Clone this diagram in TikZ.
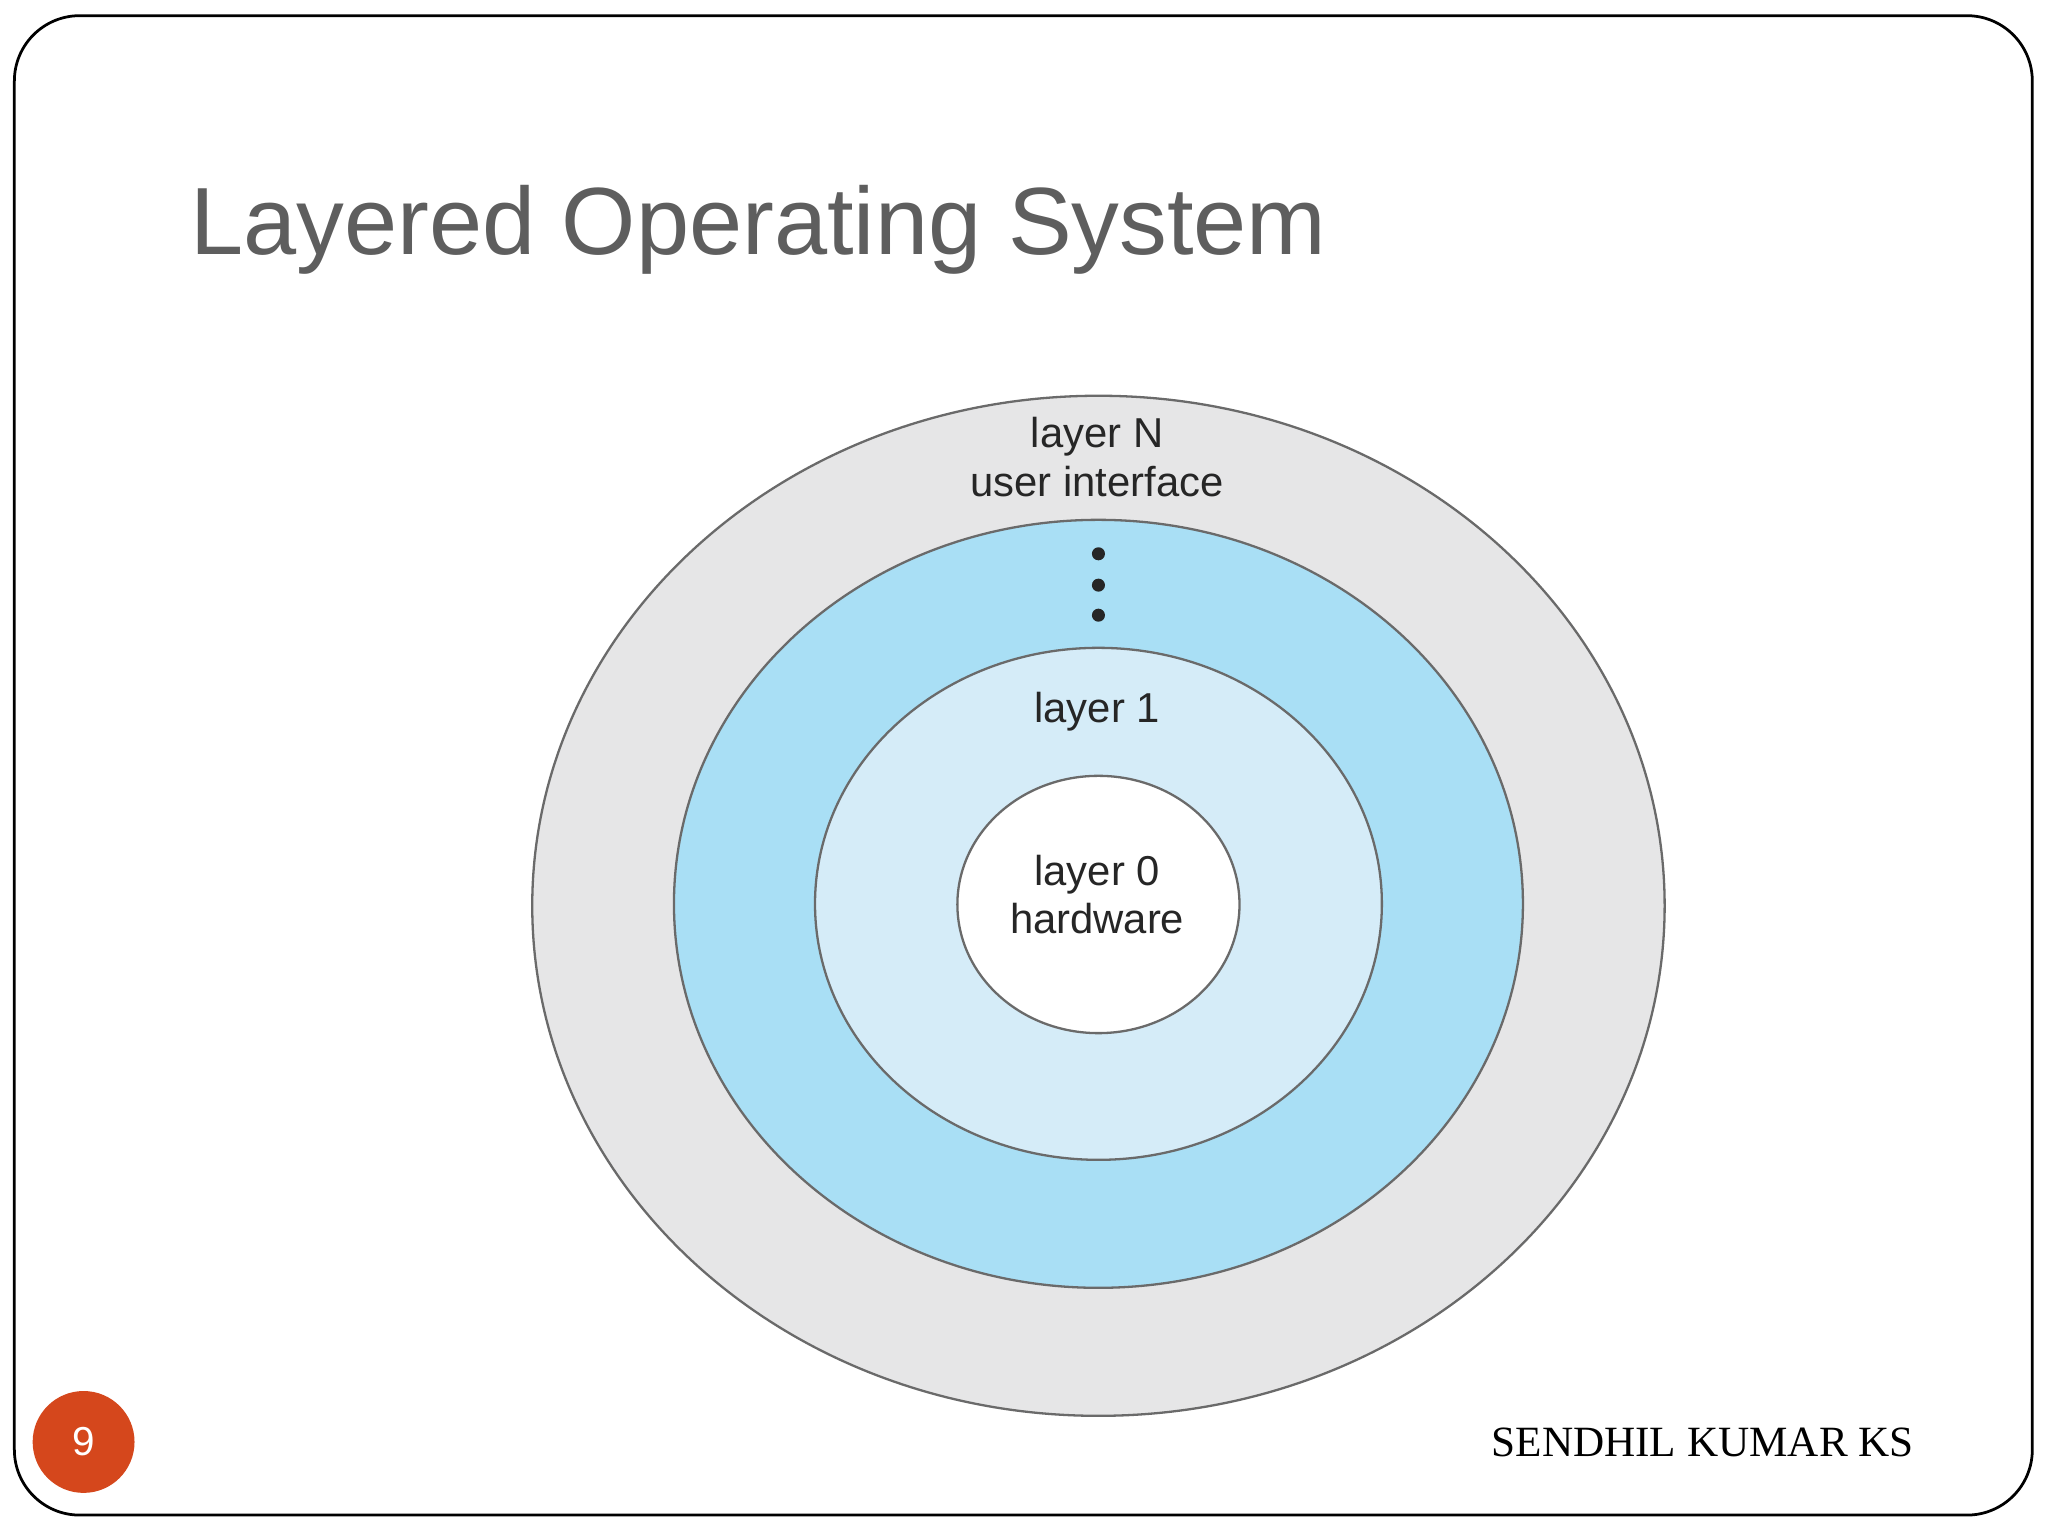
\documentclass[tikz,border=0pt]{standalone}
\usepackage{fontspec}
\setmainfont{Liberation Sans}
\newfontfamily\serifname{Liberation Serif}
\definecolor{outerg}{HTML}{E6E6E7}
\definecolor{midb}{HTML}{A9DFF5}
\definecolor{lightb}{HTML}{D5ECF8}
\definecolor{titleg}{HTML}{5E5E5E}
\definecolor{badge}{HTML}{D5471C}
\definecolor{ringline}{HTML}{6A6A6A}
\begin{document}
\begin{tikzpicture}[x=0.01cm,y=-0.01cm,
  ring/.style={draw=ringline,line width=0.5pt},
  lbl/.style={font=\fontsize{9.1pt}{10.5pt}\selectfont,text=black!85,align=center,inner sep=0pt}]
\useasboundingbox (0,0) rectangle (1568,1176);
\fill[white] (0,0) rectangle (1568,1176);
\draw[line width=0.6pt,rounded corners=0.5cm] (11,12) rectangle (1556,1160);
\node[anchor=base west,inner sep=0pt,text=titleg,font=\fontsize{20.8pt}{24pt}\selectfont] (title) at (145,195) {Layered Operating System};
\draw[ring,fill=outerg] (841,693.5) ellipse [x radius=433.5,y radius=390.5];
\draw[ring,fill=midb] (841,692) ellipse [x radius=325,y radius=294];
\draw[ring,fill=lightb] (841,692) ellipse [x radius=217,y radius=196];
\draw[ring,fill=white] (841,692.5) ellipse [x radius=108,y radius=98.5];
\node[lbl] (ln) at (840,350) {layer N\\user interface};
\foreach \y/\n in {424/d1,448/d2,471/d3} \fill[black!85] (841,\y) circle [radius=5];
\node[lbl] (l1) at (840,545) {layer 1};
\node[lbl] (l0) at (840,685) {layer 0\\hardware};
\fill[badge] (64,1104) circle [radius=39];
\node[text=white,font=\fontsize{8.8pt}{10pt}\selectfont,inner sep=0pt] (num) at (64,1104) {9};
\node[anchor=east,inner sep=0pt,font=\serifname\fontsize{9.4pt}{11pt}\selectfont] (auth) at (1466,1104) {SENDHIL KUMAR KS};
\end{tikzpicture}
\end{document}
